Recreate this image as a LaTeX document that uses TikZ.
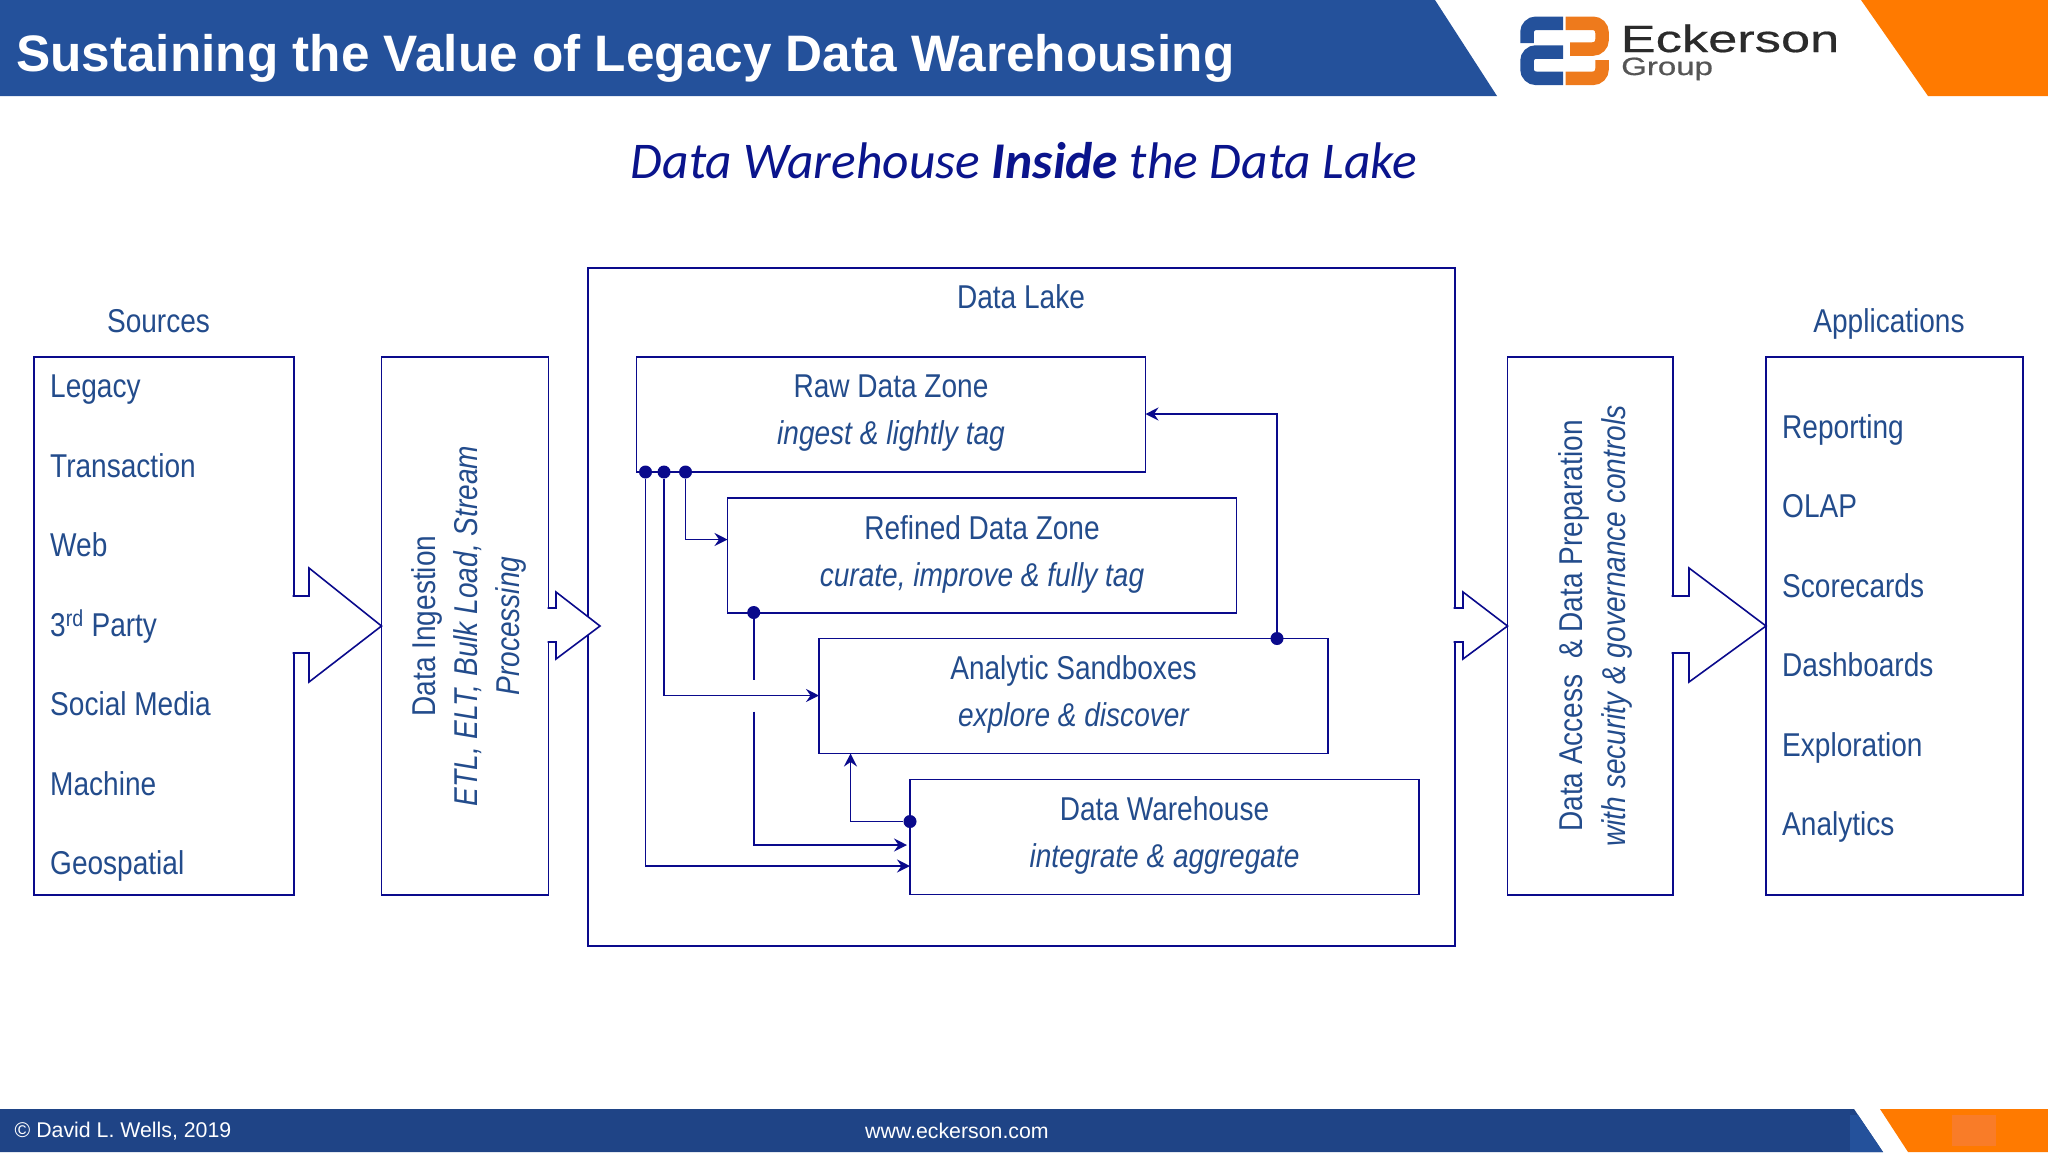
\documentclass[tikz,border=0pt]{standalone}
\usepackage{fontspec}
\setmainfont{Liberation Sans}[FakeStretch=0.85]
\newfontfamily\plainfont{Liberation Sans}
\newfontfamily\calfont{Carlito}
\newfontfamily\logofont{Liberation Sans}[FakeStretch=1.38,FakeBold=0.5]
\newfontfamily\logobold{Liberation Sans}[FakeStretch=1.32,FakeBold=0.8]
\usetikzlibrary{arrows.meta}
\definecolor{barblue}{HTML}{24519B}
\definecolor{footblue}{HTML}{1F4486}
\definecolor{barorange}{HTML}{FF7A00}
\definecolor{patchorange}{HTML}{F97C28}
\definecolor{linenavy}{HTML}{0A0A8C}
\definecolor{textblue}{HTML}{234C8C}
\definecolor{titlenavy}{HTML}{0A148C}
\definecolor{logodark}{HTML}{2B2B2B}
\definecolor{logogray}{HTML}{555555}
\definecolor{logoorange}{HTML}{EE7A1C}
\tikzset{
	labeltext/.style={inner sep=0pt, text=textblue, font=\fontsize{33}{47}\selectfont},
	zonebox/.style={draw=linenavy, line width=1.6pt, outer sep=0pt, fill=white, inner sep=0pt},
	zonetext/.style={labeltext, align=center, yshift=1.3pt},
	blockarrow/.style={draw=linenavy, line width=1.6pt, fill=white},
	flowline/.style={draw=linenavy, line width=1.8pt},
	tapdot/.style={circle, fill=linenavy, inner sep=0pt, minimum size=13pt},
	logoline/.style={line width=13.5pt, rounded corners=9pt}
}
\begin{document}
\begin{tikzpicture}[x=1pt,y=-1pt,>={Stealth[length=13pt,width=13pt,inset=4.5pt]}]
	\useasboundingbox (0,0) rectangle (2048,1152);

	% header
	\fill[barblue] (0,0) -- (1435,0) -- (1497,96) -- (0,96) -- cycle;
	\fill[barorange] (1861,0) -- (2048,0) -- (2048,96) -- (1928,96) -- cycle;
	\node[anchor=west, inner sep=0pt, text=white] (headtitle) at (16,58) {\plainfont\bfseries\fontsize{51.3}{52}\selectfont Sustaining the Value of Legacy Data Warehousing};

	% logo
	\draw[logoline, barblue] (1563,23.3) -- (1527,23.3) -- (1527,43);
	\draw[logoline, barblue] (1563,52) -- (1527,52) -- (1527,78.3) -- (1563,78.3);
	\draw[logoline, logoorange] (1565.5,23.3) -- (1602,23.3) -- (1602,49) -- (1570,49);
	\draw[logoline, logoorange] (1602,60) -- (1602,78.3) -- (1565.5,78.3);
	\node[anchor=base west, inner sep=0pt, text=logodark] (logotop) at (1620.5,52) {\logofont\fontsize{38}{38}\selectfont Eckerson};
	\node[anchor=base west, inner sep=0pt, text=logogray] (logobot) at (1621,75) {\logobold\fontsize{25}{25}\selectfont Group};

	% title
	\node[inner sep=0pt, text=titlenavy] (title) at (1024,161) {\calfont\itshape\fontsize{51.5}{52}\selectfont Data Warehouse {\bfseries Inside} the Data Lake};

	% outer boxes
	\node[zonebox, anchor=north west, minimum width=260pt, minimum height=538pt] (sources) at (34,357) {};
	\node[zonebox, anchor=north west, minimum width=167pt, minimum height=538pt] (ingest) at (381.5,357) {};
	\node[zonebox, anchor=north west, minimum width=867pt, minimum height=678pt] (lake) at (588,268) {};
	\node[zonebox, anchor=north west, minimum width=165.5pt, minimum height=538pt] (access) at (1507.5,357) {};
	\node[zonebox, anchor=north west, minimum width=257pt, minimum height=538pt] (apps) at (1766,357) {};

	% zones
	\node[zonebox, anchor=north west, minimum width=509pt, minimum height=115pt] (raw) at (636.5,357) {};
	\node[zonebox, anchor=north west, minimum width=509pt, minimum height=115pt] (refined) at (727.5,498) {};
	\node[zonebox, anchor=north west, minimum width=509pt, minimum height=115pt] (sandbox) at (819,638.5) {};
	\node[zonebox, anchor=north west, minimum width=509pt, minimum height=115pt] (dw) at (910,779.5) {};

	\node[zonetext] (rawtext) at (raw) {Raw Data Zone\\\itshape ingest \& lightly tag};
	\node[zonetext] (refinedtext) at (refined) {Refined Data Zone\\\itshape curate, improve \& fully tag};
	\node[zonetext] (sandboxtext) at (sandbox) {Analytic Sandboxes\\\itshape explore \& discover};
	\node[zonetext] (dwtext) at (dw) {Data Warehouse\\\itshape integrate \& aggregate};

	% labels
	\node[labeltext, anchor=base] (sourcestitle) at (158.5,332.5) {Sources};
	\node[labeltext, anchor=base] (appstitle) at (1889,332.5) {Applications};
	\node[labeltext, anchor=base] (laketitle) at (1021,308) {Data Lake};

	\node[labeltext, anchor=base west] (srcA) at (50,397.5) {Legacy};
	\node[labeltext, anchor=base west] (srcB) at (50,477) {Transaction};
	\node[labeltext, anchor=base west] (srcC) at (50,556.5) {Web};
	\node[labeltext, anchor=base west] (srcD) at (50,636) {3\textsuperscript{rd} Party};
	\node[labeltext, anchor=base west] (srcE) at (50,715.5) {Social Media};
	\node[labeltext, anchor=base west] (srcF) at (50,795) {Machine};
	\node[labeltext, anchor=base west] (srcG) at (50,874.5) {Geospatial};

	\node[labeltext, anchor=base west] (appA) at (1782,438) {Reporting};
	\node[labeltext, anchor=base west] (appB) at (1782,517.5) {OLAP};
	\node[labeltext, anchor=base west] (appC) at (1782,597) {Scorecards};
	\node[labeltext, anchor=base west] (appD) at (1782,676.5) {Dashboards};
	\node[labeltext, anchor=base west] (appE) at (1782,756) {Exploration};
	\node[labeltext, anchor=base west] (appF) at (1782,835.5) {Analytics};

	\node[labeltext, rotate=90, align=center, font=\fontsize{33}{42}\selectfont] (ingesttext) at (468.5,626) {Data Ingestion\\\itshape ETL, ELT, Bulk Load, Stream\\\itshape Processing};
	\node[labeltext, rotate=90, align=center, font=\fontsize{33}{43}\selectfont] (accesstext) at (1595,626) {Data Access \ \& Data Preparation\\\itshape with security \& governance controls};

	% block arrows
	\draw[blockarrow] (292.5,596) -- (309,596) -- (309,568) -- (381.5,626) -- (309,682) -- (309,653) -- (292.5,653);
	\draw[blockarrow] (547.5,608) -- (556,608) -- (556,592) -- (600,626) -- (556,659) -- (556,642) -- (547.5,642);
	\draw[blockarrow] (1453.5,608) -- (1463,608) -- (1463,592) -- (1507.5,626) -- (1463,659) -- (1463,642) -- (1453.5,642);
	\draw[blockarrow] (1671.5,596) -- (1689,596) -- (1689,568) -- (1766,626) -- (1689,682) -- (1689,653) -- (1671.5,653);

	% connectors
	\node[tapdot] (tapA) at (645.5,472) {};
	\node[tapdot] (tapB) at (664,472) {};
	\node[tapdot] (tapC) at (685.5,472) {};
	\node[tapdot] (tapD) at (753.7,612.5) {};
	\node[tapdot] (tapE) at (910,821.5) {};
	\node[tapdot] (tapF) at (1277,638.5) {};
	\coordinate (gapT) at (753.7,680);
	\coordinate (gapB) at (753.7,711.5);
	\coordinate (rawin) at (1145.5,414);
	\coordinate (refinedin) at (727.5,539.5);
	\coordinate (sandboxin) at (819,695.5);
	\coordinate (sandboxup) at (850.5,753.5);
	\coordinate (dwinA) at (907,845);
	\coordinate (dwinB) at (910,866);

	\draw[flowline,->] (tapC) |- (refinedin);
	\draw[flowline,->] (tapB) |- (sandboxin);
	\draw[flowline,->] (tapA) |- (dwinB);
	\draw[flowline] (tapD) -- (gapT);
	\draw[flowline,->] (gapB) |- (dwinA);
	\draw[flowline,->] (tapE) -| (sandboxup);
	\draw[flowline,->] (tapF) |- (rawin);

	% footer
	\fill[footblue] (0,1109) -- (1854,1109) -- (1883,1152) -- (0,1152) -- cycle;
	\fill[barblue] (1850,1115) -- (1858,1115) -- (1883,1152) -- (1850,1152) -- cycle;
	\fill[barorange] (1880,1109) -- (2048,1109) -- (2048,1152) -- (1908,1152) -- cycle;
	\fill[patchorange] (1952,1115) rectangle (1996,1146);
	\node[anchor=west, inner sep=0pt, text=white] (copyright) at (14.5,1131.5) {\plainfont\fontsize{21.3}{22}\selectfont © David L. Wells, 2019};
	\node[anchor=west, inner sep=0pt, text=white] (website) at (865,1131) {\plainfont\fontsize{21.3}{22}\selectfont www.eckerson.com};
\end{tikzpicture}
\end{document}
